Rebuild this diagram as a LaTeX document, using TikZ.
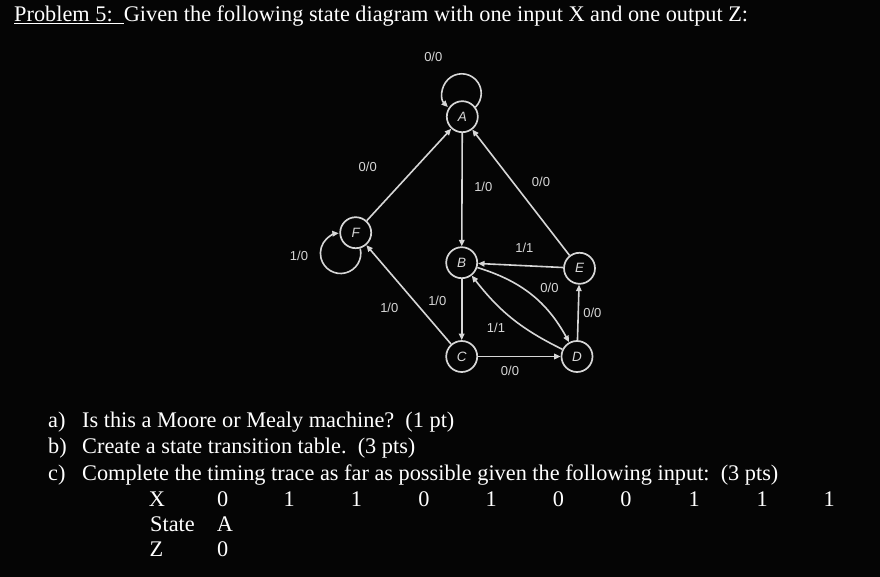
\documentclass[tikz,border=0pt]{standalone}
\usepackage{fontspec}
\setmainfont{Liberation Serif}
\setsansfont{Liberation Sans}
\usepackage{tikz}
\usetikzlibrary{arrows.meta}
\definecolor{fg}{RGB}{215,215,215}
\definecolor{bg}{RGB}{5,5,5}

\begin{document}
\begin{tikzpicture}[x=1pt,y=1pt,
    stnode/.style={circle,draw=fg,line width=1.7pt,minimum size=31pt,inner sep=0pt,text=fg,font=\sffamily\itshape\fontsize{13.5}{13.5}\selectfont},
    lbl/.style={text=fg,font=\sffamily\fontsize{13}{13}\selectfont,inner sep=0pt},
    arr/.style={draw=fg,line width=1.6pt,-{Triangle[length=6.5pt,width=5.5pt]}},
    txt/.style={text=white,font=\fontsize{22.3}{22.3}\selectfont,inner sep=0pt}]
  \fill[bg] (0,0) rectangle (880,-577);
  \useasboundingbox (0,0) rectangle (880,-577);

  \node[txt,anchor=base west] (title) at (14,-21.5) {\underline{Problem 5:\ \ }Given the following state diagram with one input X and one output Z:};

  \node[stnode] (A) at (462.3,-116.7) {A};
  \node[stnode] (F) at (355.7,-232.7) {F};
  \node[stnode] (B) at (461.7,-262.7) {B};
  \node[stnode] (E) at (579.5,-268.3) {E};
  \node[stnode] (C) at (461.7,-356.5) {C};
  \node[stnode] (D) at (577,-356.5) {D};

  \draw[arr] (A.36) arc[start angle=-45,end angle=225,radius=19.5];
  \draw[arr] (F.286) arc[start angle=14,end angle=-265,radius=20.2];
  \draw[arr] (F) -- (A);
  \draw[arr] (A) -- (B);
  \draw[arr] (E) -- (A);
  \draw[arr] (E) -- (B);
  \draw[arr] (B) to[bend left=22] (D);
  \draw[arr] (D) to[bend left=13] (B);
  \draw[arr] (B) -- (C);
  \draw[arr] (C) -- (D);
  \draw[arr] (D) -- (E);
  \draw[arr] (C) -- (F);

  \node[lbl] (lAA) at (433.3,-56.7) {0/0};
  \node[lbl] (lFA) at (367.7,-166.7) {0/0};
  \node[lbl] (lAB) at (483.3,-186.7) {1/0};
  \node[lbl] (lEA) at (541,-181.7) {0/0};
  \node[lbl] (lFF) at (299,-256) {1/0};
  \node[lbl] (lEB) at (524.3,-248.3) {1/1};
  \node[lbl] (lBD) at (549.5,-287.5) {0/0};
  \node[lbl] (lDE) at (592.3,-313.3) {0/0};
  \node[lbl] (lCF) at (389.3,-307.7) {1/0};
  \node[lbl] (lBC) at (437.3,-300.7) {1/0};
  \node[lbl] (lDB) at (496,-328.3) {1/1};
  \node[lbl] (lCD) at (510,-371) {0/0};

  \node[txt,anchor=base west] (qa) at (48,-427.3) {a)};
  \node[txt,anchor=base west] (qatext) at (82,-427.3) {Is this a Moore or Mealy machine?\ \ (1 pt)};
  \node[txt,anchor=base west] (qb) at (48,-453.3) {b)};
  \node[txt,anchor=base west] (qbtext) at (82,-453.3) {Create a state transition table.\ \ (3 pts)};
  \node[txt,anchor=base west] (qc) at (48,-480) {c)};
  \node[txt,anchor=base west] (qctext) at (82,-480) {Complete the timing trace as far as possible given the following input:\ \ (3 pts)};

  \node[txt,anchor=base] (xhead) at (157,-506) {X};
  \node[txt,anchor=base] (x1) at (222.7,-506) {0};
  \node[txt,anchor=base] (x2) at (289.3,-506) {1};
  \node[txt,anchor=base] (x3) at (356.5,-506) {1};
  \node[txt,anchor=base] (x4) at (424,-506) {0};
  \node[txt,anchor=base] (x5) at (491.3,-506) {1};
  \node[txt,anchor=base] (x6) at (558.5,-506) {0};
  \node[txt,anchor=base] (x7) at (626,-506) {0};
  \node[txt,anchor=base] (x8) at (694.3,-506) {1};
  \node[txt,anchor=base] (x9) at (762.3,-506) {1};
  \node[txt,anchor=base] (x10) at (829.3,-506) {1};

  \node[txt,anchor=base west] (shead) at (150,-531.7) {State};
  \node[txt,anchor=base] (s1) at (225,-531.7) {A};
  \node[txt,anchor=base] (zhead) at (156.5,-556) {Z};
  \node[txt,anchor=base] (z1) at (222.7,-556) {0};
\end{tikzpicture}
\end{document}
